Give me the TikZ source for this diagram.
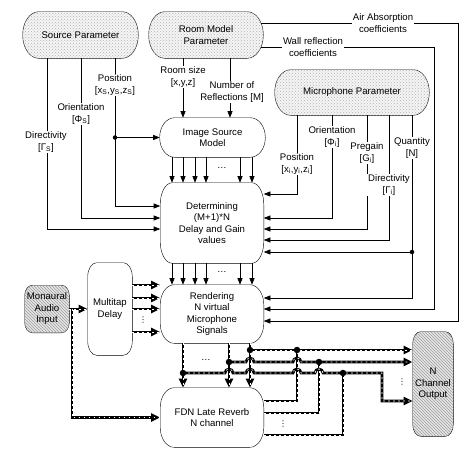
\documentclass[tikz,border=0pt]{standalone}
\usepackage{fontspec}
\setmainfont{Liberation Sans}
\newfontfamily\symfont{DejaVu Sans}
\usepackage{tikz}
\usetikzlibrary{arrows.meta, patterns, backgrounds}

% box outline with elliptic corners round a node
\newcommand{\ovalbox}[4][]{%
  \draw[#1] ([xshift=#3]#2.north west) -- ([xshift=-#3]#2.north east)
    arc[start angle=90, end angle=0, x radius=#3, y radius=#4]
    -- ([yshift=#4]#2.south east)
    arc[start angle=0, end angle=-90, x radius=#3, y radius=#4]
    -- ([xshift=#3]#2.south west)
    arc[start angle=270, end angle=180, x radius=#3, y radius=#4]
    -- ([yshift=-#4]#2.north west)
    arc[start angle=180, end angle=90, x radius=#3, y radius=#4] -- cycle;}

\tikzset{
  box/.style={inner sep=0pt, align=center},
  lbl/.style={fill=white, inner sep=1pt, align=center},
  dts/.style={inner sep=0pt},
  vdts/.style={inner sep=0pt, font=\symfont\fontsize{8}{8}\selectfont},
  arr/.style={-{Triangle[length=6.5pt,width=5pt]}},
  sig/.style={line width=2.7pt, postaction={draw=white, line width=0.7pt, dash pattern=on 1.8pt off 3.2pt, -}},
  sarr/.style={-{Triangle[length=9pt,width=8pt]}},
  dotpat/.style={fill=gray!8, postaction={pattern=crosshatch dots, pattern color=gray!60}},
  hatchpat/.style={fill=gray!20, postaction={pattern=north west lines, pattern color=gray!75}},
  junc/.style={circle, fill, inner sep=0pt, minimum size=6.5pt},
  pt/.style={circle, fill, inner sep=0pt, minimum size=4.5pt}
}

\begin{document}
\begin{tikzpicture}[x=1pt, y=-1pt, line width=0.6pt, font=\fontsize{9.6}{11.5}\selectfont]
    \useasboundingbox (0,0) rectangle (474,456);

    % blocks
    \node[box, minimum width=115pt, minimum height=46pt] (src) at (80.5,35) {Source Parameter};
    \node[box, minimum width=114pt, minimum height=46pt] (room) at (206,35) {Room Model\\Parameter};
    \node[box, minimum width=154pt, minimum height=45pt] (mic) at (352,92.5) {Microphone Parameter};
    \node[box, minimum width=105pt, minimum height=39pt] (ism) at (212.5,137.5) {Image Source\\Model};
    \node[box, minimum width=103pt, minimum height=80pt] (det) at (212,223) {Determining\\(M+1)*N\\Delay and Gain\\values};
    \node[box, minimum width=103pt, minimum height=58pt] (rend) at (212,314) {Rendering\\N virtual\\Microphone\\Signals};
    \node[box, minimum width=103pt, minimum height=59pt] (fdn) at (212,417.5) {FDN Late Reverb\\N channel};
    \node[box, minimum width=44pt, minimum height=47pt] (mono) at (47,309) {Monaural\\Audio\\Input};
    \node[box, minimum width=44pt, minimum height=92pt] (mtd) at (110,309) {Multitap\\Delay};
    \node[box, minimum width=40pt, minimum height=104pt] (out) at (433,384) {N\\Channel\\Output};

    \begin{scope}[on background layer, line width=0.7pt]
        \ovalbox[dotpat]{src}{16pt}{23pt}
        \ovalbox[dotpat]{room}{16pt}{23pt}
        \ovalbox[dotpat]{mic}{16pt}{22.5pt}
        \ovalbox{ism}{15pt}{19.5pt}
        \ovalbox{det}{12pt}{22pt}
        \ovalbox{rend}{14pt}{20pt}
        \ovalbox{fdn}{14pt}{20pt}
        \ovalbox[hatchpat]{mono}{8pt}{10pt}
        \ovalbox{mtd}{9pt}{14pt}
        \ovalbox[hatchpat]{out}{8pt}{12pt}
    \end{scope}

    % source parameter
    \coordinate (pdot) at (115,137.5);
    \draw[arr] (src.south -| pdot) |- (det.west |- 0,206);
    \draw[arr] (pdot) -- (ism.west);
    \draw[arr] (src.south -| 81,0) |- (det.west |- 0,218);
    \draw[arr] (src.south -| 47,0) |- (det.west |- 0,229);

    % room model
    \draw[arr] (room.south -| 183,0) -- (ism.north -| 183,0);
    \draw[arr] (room.south -| 230,0) -- (ism.north -| 230,0);
    \draw[arr] (room.east |- 0,23) ++(-2,0) -| (458,321) -- (rend.east |- 0,321);
    \draw[arr] (room.east |- 0,47) ++(-2,0) -| (434,309) -- (rend.east |- 0,309);

    % microphone parameter
    \coordinate (qdot) at (412,252);
    \draw[arr] (mic.south -| 297,0) |- (det.east |- 0,194);
    \draw[arr] (mic.south -| 332,0) |- (det.east |- 0,218);
    \draw[arr] (mic.south -| 367,0) |- (det.east |- 0,229);
    \draw[arr] (mic.south -| 389,0) |- (det.east |- 0,240);
    \draw[arr] (mic.south -| qdot) |- (rend.east |- 0,298);
    \draw[arr] (qdot) -- (det.east |- qdot);

    % image sources down to rendering
    \foreach \x in {172,183,195,206,240,252} {
        \draw[arr] (ism.south -| \x,0) -- (det.north -| \x,0);
        \draw[arr] (det.south -| \x,0) -- (rend.north -| \x,0);
    }
    \node[dts] (dots1) at (222,168) {\dots};
    \node[dts] (dots2) at (222,272) {\dots};

    % audio path
    \coordinate (split) at (72,309);
    \draw[sig, sarr] (mono.east) -- (mtd.west);
    \draw[sig, sarr] (split) |- (fdn.west);
    \foreach \y in {285,298,309,332}
        \draw[sig, sarr] (mtd.east |- 0,\y) -- (rend.west |- 0,\y);
    \node[vdts] (vdots1) at (143,320) {⋮};

    \foreach \x in {183,229,250}
        \draw[sig, sarr] (rend.south -| \x,0) -- (fdn.north -| \x,0);
    \node[dts] (dots3) at (206,360) {\dots};

    % channel buses
    \coordinate (k1) at (183,373);
    \coordinate (k2) at (229,362);
    \coordinate (k3) at (250,350);
    \coordinate (j1) at (297,350);
    \coordinate (j2) at (319,362);
    \coordinate (j3) at (343,373);
    \coordinate (bend) at (382,373);
    \draw[sig] (fdn.east |- 0,401) -| (j1);
    \draw[sig] (fdn.east |- 0,413) -| (j2);
    \draw[sig] (fdn.east |- 0,435) -| (j3);
    \node[vdts] (vdots2) at (283,424) {⋮};

    \draw[sig, sarr] (k3) -- (out.west |- k3);
    \draw[sig, sarr] (k2) -- (246,362) arc[start angle=180, end angle=0, radius=4pt]
        -- (293,362) arc[start angle=180, end angle=0, radius=4pt] -- (j2) -- (out.west |- k2);
    \draw[sig, sarr] (k1) -- (225,373) arc[start angle=180, end angle=0, radius=4pt]
        -- (246,373) arc[start angle=180, end angle=0, radius=4pt]
        -- (293,373) arc[start angle=180, end angle=0, radius=4pt]
        -- (315,373) arc[start angle=180, end angle=0, radius=4pt]
        -- (j3) -- (bend) |- (out.west |- 0,401);
    \node[vdts] (vdots3) at (402,382) {⋮};

    \foreach \p in {k1,k2,k3,j1,j2,j3}
        \node[junc] (dot-\p) at (\p) {};
    \node[pt] (dot-p) at (pdot) {};
    \node[pt] (dot-q) at (qdot) {};

    % labels
    \node[lbl] (lpos) at (115,85) {Position\\{}[x\textsubscript{S},y\textsubscript{S},z\textsubscript{S}]};
    \node[lbl] (lori) at (81,114) {Orientation\\{}[Φ\textsubscript{S}]};
    \node[lbl] (ldir) at (46,142) {Directivity\\{}[Γ\textsubscript{S}]};
    \node[lbl] (lsize) at (183,77) {Room size\\{}[x,y,z]};
    \node[lbl] (lrefl) at (232,92) {Number of\\Reflections [M]};
    \node[lbl] (lair) at (383,23) {Air Absorption\\coefficients};
    \node[lbl] (lwall) at (313,47) {Wall reflection\\coefficients};
    \node[lbl] (lmpos) at (297,164) {Position\\{}[x\textsubscript{i},y\textsubscript{i},z\textsubscript{i}]};
    \node[lbl] (lmori) at (332,137) {Orientation\\{}[Φ\textsubscript{i}]};
    \node[lbl] (lgain) at (367,153) {Pregain\\{}[G\textsubscript{i}]};
    \node[lbl] (lmdir) at (389,185) {Directivity\\{}[Γ\textsubscript{i}]};
    \node[lbl] (lqty) at (412,148) {Quantity\\{}[N]};
\end{tikzpicture}
\end{document}
